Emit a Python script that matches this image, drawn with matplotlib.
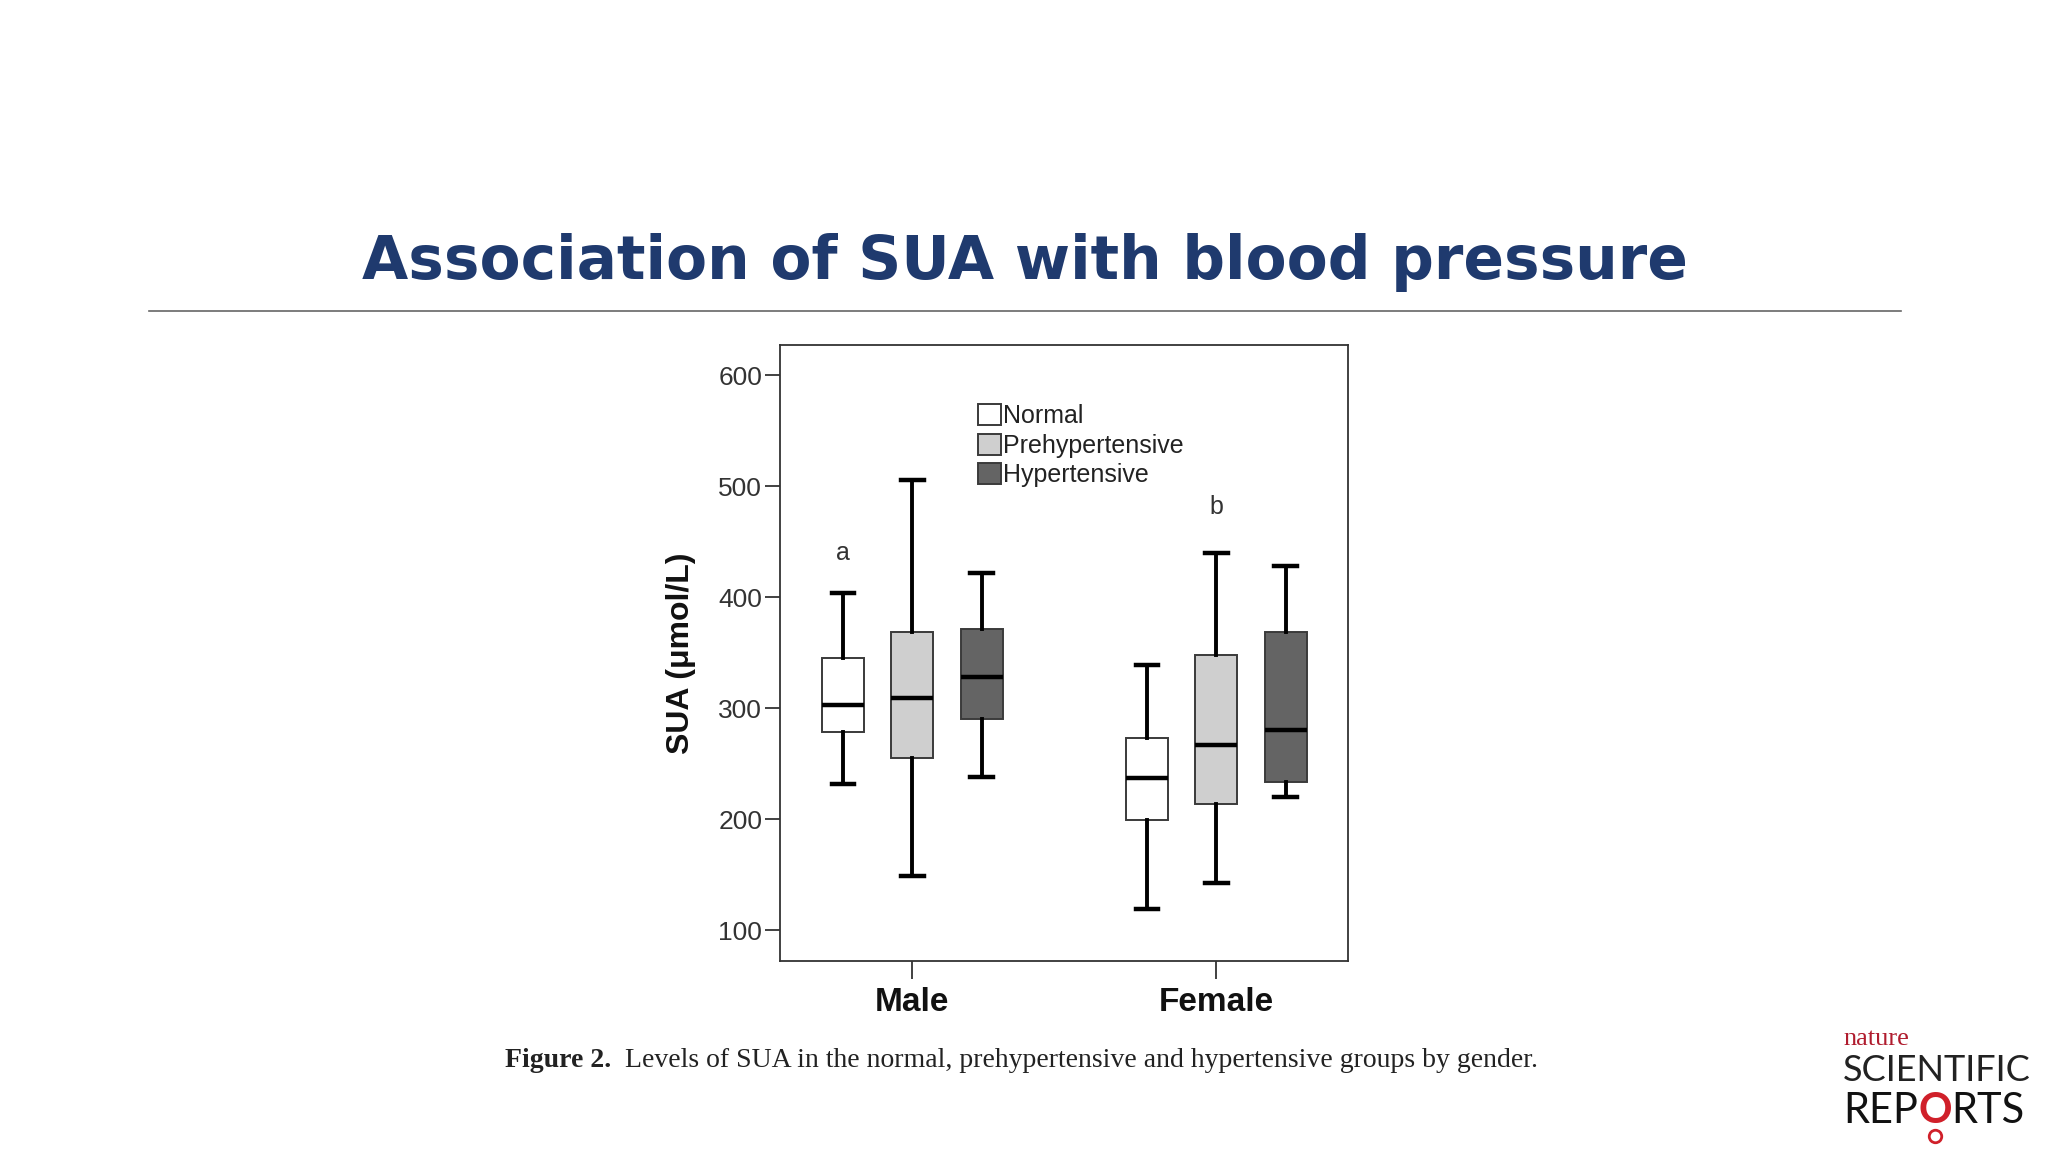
import matplotlib
matplotlib.use('Agg')
import matplotlib.pyplot as plt
from matplotlib.patches import Patch
from matplotlib.lines import Line2D

# Данные, мкмоль/л
genders = ['Male', 'Female']
groups = ['Normal', 'Prehypertensive', 'Hypertensive']
whislo = {'Male': [232, 149, 238], 'Female': [119, 143, 220]}
q1 = {'Male': [279, 255, 290], 'Female': [199, 214, 234]}
med = {'Male': [303, 309, 328], 'Female': [237, 267, 280]}
q3 = {'Male': [345, 369, 371], 'Female': [273, 348, 369]}
whishi = {'Male': [404, 506, 422], 'Female': [339, 440, 428]}
letters = [('a', 'Male', 0, 440), ('b', 'Female', 1, 481)]
yticks = [100, 200, 300, 400, 500, 600]

colors = ['#ffffff', '#cfcfcf', '#646464']
offsets = [-0.228, 0.0, 0.228]

fig = plt.figure(figsize=(20.48, 11.52), dpi=100)
fig.patch.set_facecolor('white')
ax = fig.add_axes([0.381, 0.1658, 0.2773, 0.5347])

# Боксплоты
for gi, g in enumerate(genders):
    stats = []
    pos = []
    for k in range(3):
        stats.append({'whislo': whislo[g][k], 'q1': q1[g][k], 'med': med[g][k],
                      'q3': q3[g][k], 'whishi': whishi[g][k], 'fliers': []})
        pos.append(gi + 1 + offsets[k])
    bp = ax.bxp(stats, positions=pos, widths=0.138, patch_artist=True,
                showfliers=False, capwidths=0.075,
                boxprops=dict(edgecolor='#3a3a3a', linewidth=1.4),
                medianprops=dict(color='black', linewidth=3.2),
                whiskerprops=dict(color='black', linewidth=2.8),
                capprops=dict(color='black', linewidth=3.2))
    for patch, c in zip(bp['boxes'], colors):
        patch.set_facecolor(c)

for txt, g, k, y in letters:
    x = genders.index(g) + 1 + offsets[k] if txt == 'a' else genders.index(g) + 1
    ax.text(x, y, txt, ha='center', va='center', fontsize=18,
            family='Liberation Sans', color='#333333')

ax.set_xlim(0.566, 2.434)
ax.set_ylim(72.3, 627.3)
ax.set_xticks([1, 2])
ax.set_xticklabels(genders, fontsize=24, fontweight='bold', family='Liberation Sans', color='#111111')
ax.set_yticks(yticks)
ax.set_yticklabels([str(v) for v in yticks], fontsize=19, family='Liberation Sans', color='#333333')
ax.tick_params(axis='y', length=11, width=1.3, color='#333333', pad=2)
ax.tick_params(axis='x', length=13, width=1.3, color='#333333', pad=6)
for s in ax.spines.values():
    s.set_color('#333333')
    s.set_linewidth(1.3)

ax.set_ylabel('SUA (μmol/L)', fontsize=23, fontweight='bold', family='Liberation Sans', color='#111111')
ax.yaxis.set_label_coords(-0.148, 0.5)

handles = [Patch(facecolor=c, edgecolor='#3a3a3a', linewidth=1.4) for c in colors]
leg = ax.legend(handles, groups, loc='upper left', bbox_to_anchor=(0.327, 0.924),
                frameon=False, borderpad=0, handlelength=0.9, handleheight=0.9,
                handletextpad=0.1, labelspacing=0.22,
                prop={'family': 'Liberation Sans', 'size': 18})
for t in leg.get_texts():
    t.set_color('#222222')

# Заголовок слайда
fig.text(0.5005, 0.758, 'Association of SUA with blood pressure', ha='center', va='baseline',
         fontsize=43, fontweight='bold', color='#1f3a6e',
         family=['Liberation Sans Narrow', 'DejaVu Sans'])
fig.add_artist(Line2D([0.0728, 0.928], [0.730, 0.730], color='#666666', linewidth=1.2))

# Подпись к рисунку
cap1 = fig.text(0.2466, 0.0738, 'Figure 2.', ha='left', va='baseline', fontsize=20,
                fontweight='bold', family='Liberation Serif', color='#222222')
fig.canvas.draw()
bb = cap1.get_window_extent()
x2 = (bb.x1 + 14) / fig.bbox.width
fig.text(x2, 0.0738, 'Levels of SUA in the normal, prehypertensive and hypertensive groups by gender.',
         ha='left', va='baseline', fontsize=20, family='Liberation Serif', color='#222222')

# Логотип
fig.text(0.9, 0.093, 'nature', ha='left', va='baseline', fontsize=19,
         family='Liberation Serif', color='#b01c2e')
fig.text(0.9, 0.0616, 'SCIENTIFIC', ha='left', va='baseline', fontsize=26,
         family='Lato', color='#222222')
r1 = fig.text(0.9, 0.0252, 'REP', ha='left', va='baseline', fontsize=30,
              family='Lato', color='#111111')
fig.canvas.draw()
b1 = r1.get_window_extent()
r2 = fig.text(b1.x1 / fig.bbox.width, 0.0252, 'O', ha='left', va='baseline', fontsize=30,
              family='Lato', fontweight='bold', color='#d0202a')
fig.canvas.draw()
b2 = r2.get_window_extent()
fig.text(b2.x1 / fig.bbox.width, 0.0252, 'RTS', ha='left', va='baseline', fontsize=30,
         family='Lato', color='#111111')
fig.add_artist(Line2D([(b2.x0 + b2.x1) / 2 / fig.bbox.width], [0.014], marker='o', markersize=9,
                      markerfacecolor='none', markeredgecolor='#d0202a', markeredgewidth=2))

fig.savefig('out.png', dpi=100)
